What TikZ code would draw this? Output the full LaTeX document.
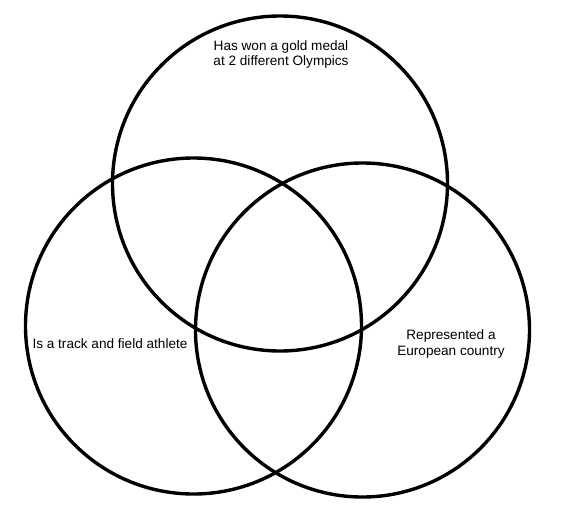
\documentclass[tikz,border=0pt]{standalone}
\usepackage{fontspec}
\setmainfont{Liberation Sans}
\begin{document}
\begin{tikzpicture}[x=1pt,y=-1pt,
  ring/.style={circle,draw=black,line width=3.4pt,inner sep=0pt,outer sep=0pt},
  lbl/.style={font=\fontsize{13.6}{15.7}\selectfont,inner sep=0pt,align=center,anchor=base}]
\useasboundingbox (0,0) rectangle (568,528);
\node[ring,minimum size=335pt] (top) at (280,183.5) {};
\node[ring,minimum size=336pt] (left) at (193.5,326) {};
\node[ring,minimum size=334pt] (right) at (362.5,330) {};
\node[lbl] (ttop) at (281,65.7) {Has won a gold medal\\at 2 different Olympics};
\node[lbl] (tleft) at (110,348.3) {Is a track and field athlete};
\node[lbl] (tright) at (451,355) {Represented a\\European country};
\end{tikzpicture}
\end{document}
